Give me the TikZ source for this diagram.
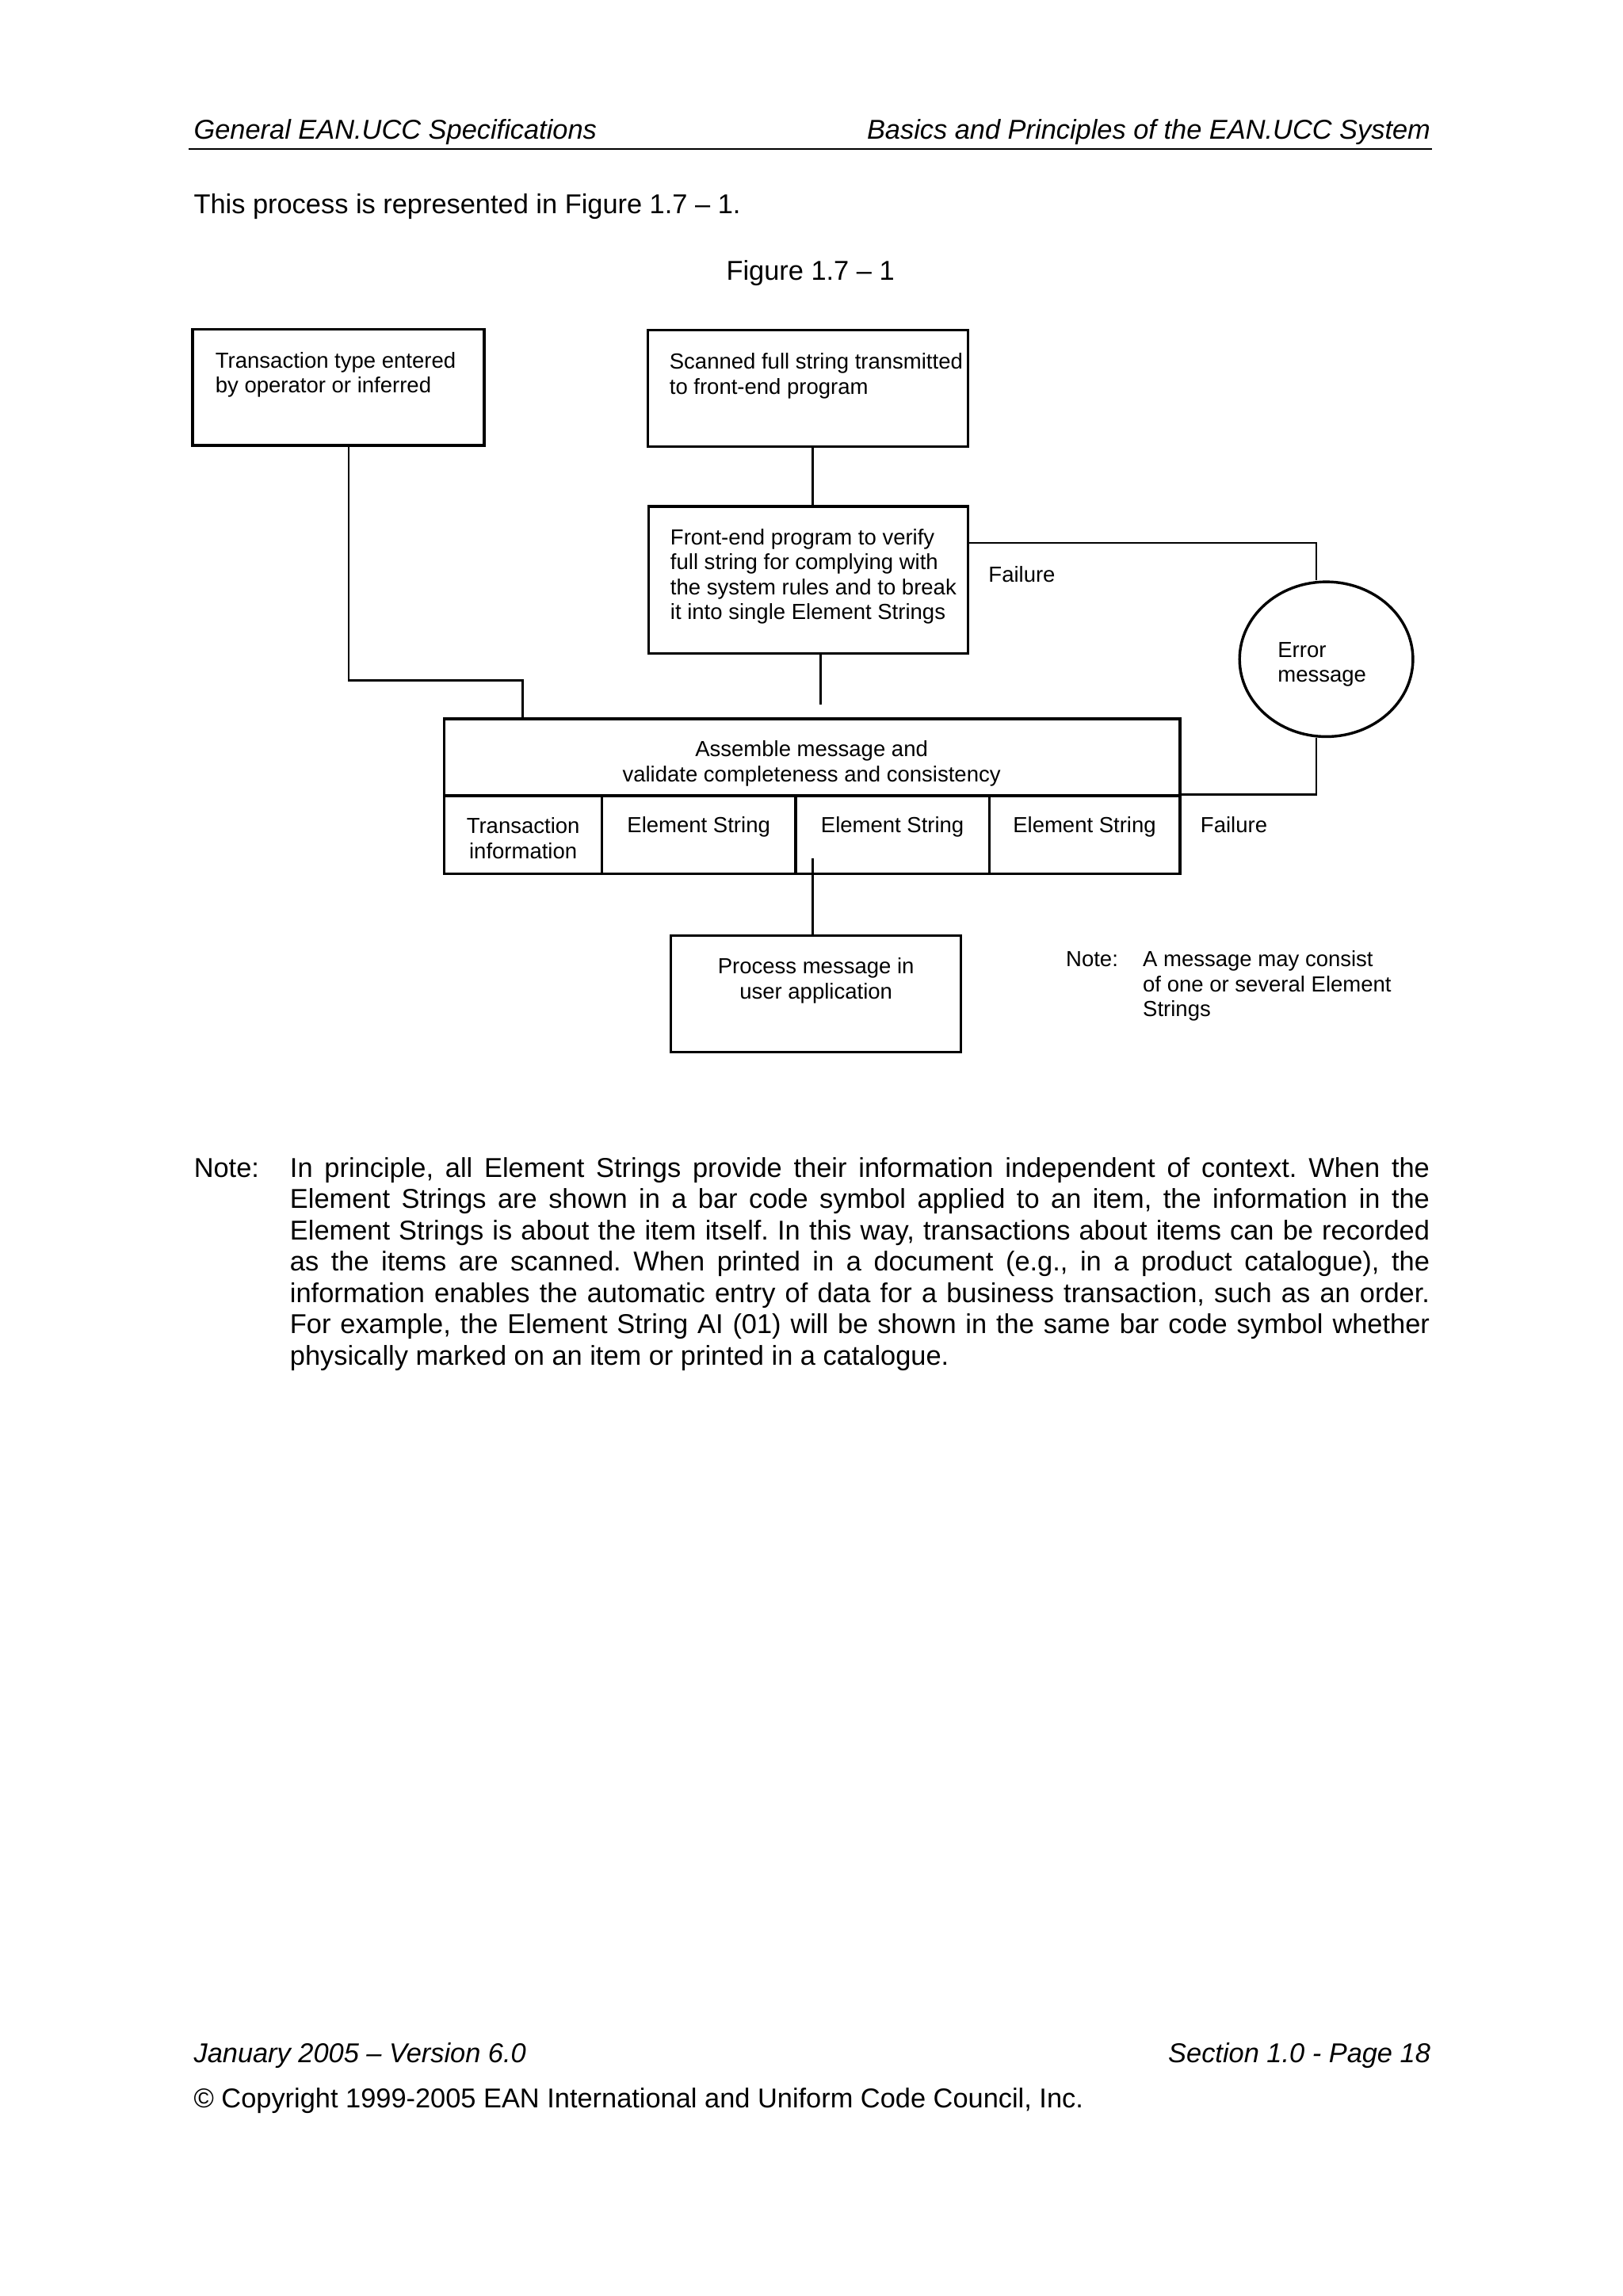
\documentclass[tikz,border=0pt]{standalone}
\usepackage{fontspec}
\setmainfont{Liberation Sans}
\usetikzlibrary{fit,shapes.geometric}
\frenchspacing
\newcommand{\tstr}{\rule{0pt}{1em}}
\newcommand{\jline}[1]{\makebox[418.2pt][s]{#1}}
\begin{document}
\frenchspacing
\begin{tikzpicture}[x=0.53727pt,y=-0.53727pt,
  box/.style={draw, line width=1pt, inner sep=0pt},
  conn/.style={line width=0.8pt},
  t8/.style={font=\fontsize{8}{9.2}\selectfont, inner sep=0pt},
  t10/.style={font=\fontsize{10}{11.5}\selectfont\frenchspacing, inner sep=0pt},
  t10i/.style={font=\fontsize{10}{11.5}\selectfont\itshape, inner sep=0pt},
]
\fill[white] (0,0) rectangle (1108,1568);
\useasboundingbox (0,0) rectangle (1108,1568);

% page header
\node[t10i, anchor=base west] (hdl) at (132,94.8) {General EAN.UCC Specifications};
\node[t10i, anchor=base east] (hdr) at (977.3,94.8) {Basics and Principles of the EAN.UCC System};
\draw[line width=0.6pt] (129,101.8) -- (978,101.8);

\node[t10, anchor=base west] (intro) at (132,145.6) {This process is represented in Figure 1.7 – 1.};
\node[t10, anchor=base] (cap) at (553.5,191.5) {Figure 1.7 – 1};

% boxes
\node[box, fit={(131.6,224.8) (330.6,304.2)}] (b1) {};
\node[box, fit={(442.6,225.5) (661.2,305)}] (b2) {};
\node[box, fit={(443,345.8) (661.2,446.3)}] (b3) {};
\node[box, ellipse, minimum width=63.6pt, minimum height=56.8pt] (err) at (905.8,450.2) {};
\node[box, fit={(303.3,491) (805.8,543.5)}] (asm) {};
\node[box, fit={(303.3,543.5) (411,596.6)}] (ti) {};
\node[box, fit={(411,543.5) (543.3,596.6)}] (es1) {};
\node[box, fit={(543.3,543.5) (675.7,596.6)}] (es2) {};
\node[box, fit={(675.7,543.5) (805.8,596.6)}] (es3) {};
\node[box, fit={(458.1,638.9) (656.4,718.6)}] (proc) {};

% box texts
\node[t8, anchor=north west, align=left] (b1t) at (146.8,235.9) {\tstr Transaction type entered\\by operator or inferred};
\node[t8, anchor=north west, align=left] (b2t) at (456.9,236.7) {\tstr Scanned full string transmitted\\to front-end program};
\node[t8, anchor=north west, align=left] (b3t) at (457.5,356.6) {\tstr Front-end program to verify\\full string for complying with\\the system rules and to break\\it into single Element Strings};
\node[t8, anchor=north west, align=left] (errt) at (872.3,433.6) {\tstr Error\\message};
\node[t8, anchor=north, align=center] (asmt) at (554.3,501.6) {\tstr Assemble message and\\validate completeness and consistency};
\node[t8, anchor=north, align=center] (tit) at (357.3,553.8) {\tstr Transaction\\information};
\node[t8, anchor=base] (es1t) at (477.2,568.7) {Element String};
\node[t8, anchor=base] (es2t) at (609.5,568.7) {Element String};
\node[t8, anchor=base] (es3t) at (740.7,568.7) {Element String};
\node[t8, anchor=north, align=center] (proct) at (557.3,649.6) {\tstr Process message in\\user application};
\node[t8, anchor=base west] (fail1) at (674.8,397.8) {Failure};
\node[t8, anchor=base west] (fail2) at (819.6,568.7) {Failure};
\node[t8, anchor=base west] (note1) at (727.7,659.8) {Note:};
\node[t8, anchor=north west, align=left] (note1t) at (780.2,644.9) {\tstr A message may consist\\of one or several Element\\Strings};

% connectors
\coordinate (k1) at (238.1,464.5);
\coordinate (k2) at (357,464.5);
\draw[conn] (b1.south -| k1) -- (k1) -- (k2) -- (k2 |- asm.north);
\coordinate (k3) at (555.2,320);
\draw[conn] (b2.south -| k3) -- (b3.north -| k3);
\coordinate (k4) at (560.3,481.1);
\draw[conn] (k4 |- b3.south) -- (k4);
\coordinate (k5) at (899,370.8);
\draw[conn] (b3.east |- k5) -- (k5) -- (err.north -| k5);
\coordinate (k6) at (899,542.6);
\draw[conn] (err.south -| k6) -- (k6) -- (k6 -| asm.east);
\coordinate (k7) at (555,586.4);
\draw[conn] (k7) -- (proc.north -| k7);

% body note
\node[t10, anchor=base west] (note2) at (132.1,803.9) {Note:};
\node[t10, anchor=base west] (p1) at (197.7,803.9) {\jline{In principle, all Element Strings provide their information independent of context. When the}};
\node[t10, anchor=base west] (p2) at (197.7,825.3) {\jline{Element Strings are shown in a bar code symbol applied to an item, the information in the}};
\node[t10, anchor=base west] (p3) at (197.7,846.7) {\jline{Element Strings is about the item itself. In this way, transactions about items can be recorded}};
\node[t10, anchor=base west] (p4) at (197.7,868.1) {\jline{as the items are scanned. When printed in a document (e.g., in a product catalogue), the}};
\node[t10, anchor=base west] (p5) at (197.7,889.5) {\jline{information enables the automatic entry of data for a business transaction, such as an order.}};
\node[t10, anchor=base west] (p6) at (197.7,910.9) {\jline{For example, the Element String AI (01) will be shown in the same bar code symbol whether}};
\node[t10, anchor=base west] (p7) at (197.7,932.3) {physically marked on an item or printed in a catalogue.};

% footer
\node[t10i, anchor=base west] (ftl) at (132,1408.4) {January 2005 – Version 6.0};
\node[t10i, anchor=base east] (ftr) at (977.3,1408.4) {Section 1.0 - Page 18};
\node[t10, anchor=base west] (copy) at (132,1439.5) {© Copyright 1999-2005 EAN International and Uniform Code Council, Inc.};
\end{tikzpicture}
\end{document}
